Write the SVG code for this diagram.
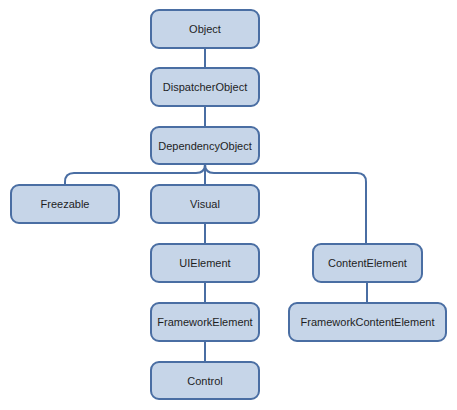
<svg xmlns="http://www.w3.org/2000/svg" width="457" height="410" viewBox="0 0 457 410">
<style>
.n rect{fill:#c6d5e8;stroke:#4a6ea3;stroke-width:2}
.n text{font-family:"Liberation Sans",Arial,sans-serif;font-size:11px;fill:#1e1e1e;text-anchor:middle;dominant-baseline:central}
#edges path{fill:none;stroke:#4a6ea3;stroke-width:2}
</style>
<rect width="457" height="410" fill="#fff"/>
<g id="edges">
<path d="M205,48V68"/>
<path d="M205,106V127"/>
<path d="M205,164V185"/>
<path d="M205,164Q205,173 196,173H74Q65,173 65,182V185"/>
<path d="M205,164Q205,173 214,173H357Q366,173 366,182V244"/>
<path d="M205,223V244"/>
<path d="M205,282V303"/>
<path d="M205,341V362"/>
<path d="M367,282V303"/>
</g>
<g id="object" class="n"><rect x="151" y="10" width="108" height="38" rx="8"/><text x="205" y="29">Object</text></g>
<g id="dispatcherobject" class="n"><rect x="151" y="68" width="108" height="38" rx="8"/><text x="205" y="87">DispatcherObject</text></g>
<g id="dependencyobject" class="n"><rect x="151" y="127" width="108" height="37" rx="8"/><text x="205" y="145.5">DependencyObject</text></g>
<g id="freezable" class="n"><rect x="11" y="185" width="108" height="38" rx="8"/><text x="65" y="204">Freezable</text></g>
<g id="visual" class="n"><rect x="151" y="185" width="108" height="38" rx="8"/><text x="205" y="204">Visual</text></g>
<g id="uielement" class="n"><rect x="151" y="244" width="108" height="38" rx="8"/><text x="205" y="263">UIElement</text></g>
<g id="frameworkelement" class="n"><rect x="151" y="303" width="108" height="38" rx="8"/><text x="205" y="322">FrameworkElement</text></g>
<g id="control" class="n"><rect x="151" y="362" width="108" height="37" rx="8"/><text x="205" y="380.5">Control</text></g>
<g id="contentelement" class="n"><rect x="313" y="244" width="109" height="38" rx="8"/><text x="367.5" y="263">ContentElement</text></g>
<g id="frameworkcontentelement" class="n"><rect x="289" y="303" width="157" height="38" rx="8"/><text x="367.5" y="322">FrameworkContentElement</text></g>
</svg>
